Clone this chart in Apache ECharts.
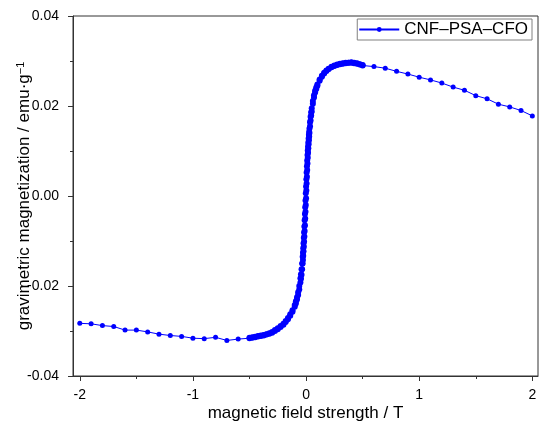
<!DOCTYPE html>
<html>
<head>
<meta charset="utf-8">
<script src="https://cdn.jsdelivr.net/npm/echarts@6/dist/echarts.min.js"></script>
<style>
html,body{margin:0;padding:0;background:#fff;}
#chart{width:550px;height:428px;}
</style>
</head>
<body>
<div id="chart"></div>
<script>
// Field (T) and magnetization (emu/g)
const seriesName = 'CNF\u2013PSA\u2013CFO';

// Outer left region (sparse points)
const fieldLeft = [-2.0,-1.9,-1.8,-1.7,-1.6,-1.5,-1.4,-1.3,-1.2,-1.1,-1.0,-0.9,-0.8,-0.7,-0.6];
const magLeft   = [-0.0283,-0.0284,-0.0288,-0.0290,-0.0298,-0.0298,-0.0302,-0.0307,-0.0310,-0.0312,-0.0316,-0.0317,-0.0314,-0.0321,-0.0318];

// Dense central region
const fieldDense = [-0.5,-0.475,-0.45,-0.425,-0.4,-0.375,-0.35,-0.325,-0.3,-0.275,-0.25,-0.225,-0.2,-0.18,-0.16,-0.14,-0.12,-0.1,-0.09,-0.08,-0.07,-0.06,-0.05,-0.045,-0.04,-0.035,-0.03,-0.0275,-0.025,-0.0225,-0.02,-0.0175,-0.015,-0.0125,-0.01,-0.0075,-0.005,-0.0025,0,0.0025,0.005,0.0075,0.01,0.0125,0.015,0.0175,0.02,0.0225,0.025,0.0275,0.03,0.035,0.04,0.045,0.05,0.06,0.07,0.08,0.09,0.1,0.12,0.14,0.16,0.18,0.2,0.225,0.25,0.275,0.3,0.325,0.35,0.375,0.4,0.425,0.45,0.475,0.5];
const magUp = [-0.0316,-0.0315,-0.0314,-0.0312,-0.0311,-0.0310,-0.0308,-0.0306,-0.0304,-0.0300,-0.0296,-0.0291,-0.0286,-0.0280,-0.0274,-0.0266,-0.0257,-0.0246,-0.0239,-0.0230,-0.0220,-0.0208,-0.0192,-0.0184,-0.0175,-0.0163,-0.0150,-0.0142,-0.0133,-0.0123,-0.0112,-0.0101,-0.0090,-0.0078,-0.0065,-0.0050,-0.0035,-0.0020,-0.0005,0.0012,0.0028,0.0043,0.0058,0.0072,0.0085,0.0096,0.0106,0.0115,0.0124,0.0132,0.0140,0.0155,0.0168,0.0179,0.0188,0.0205,0.0219,0.0230,0.0238,0.0245,0.0256,0.0265,0.0272,0.0278,0.0282,0.0286,0.0289,0.0291,0.0293,0.0294,0.0295,0.0296,0.0296,0.0295,0.0294,0.0292,0.0290];
const magDown = [-0.0315,-0.0314,-0.0313,-0.0311,-0.0310,-0.0309,-0.0307,-0.0305,-0.0302,-0.0298,-0.0294,-0.0289,-0.0284,-0.0278,-0.0271,-0.0263,-0.0254,-0.0242,-0.0234,-0.0225,-0.0214,-0.0200,-0.0183,-0.0174,-0.0163,-0.0150,-0.0135,-0.0126,-0.0116,-0.0105,-0.0093,-0.0081,-0.0068,-0.0054,-0.0040,-0.0025,-0.0010,0.0006,0.0021,0.0037,0.0052,0.0066,0.0079,0.0091,0.0101,0.0110,0.0119,0.0128,0.0136,0.0143,0.0150,0.0164,0.0176,0.0186,0.0195,0.0211,0.0224,0.0234,0.0241,0.0248,0.0259,0.0267,0.0274,0.0279,0.0283,0.0287,0.0290,0.0292,0.0294,0.0295,0.0296,0.0296,0.0297,0.0296,0.0295,0.0293,0.0291];

// Outer right region (sparse points)
const fieldRight = [0.6,0.7,0.8,0.9,1.0,1.1,1.2,1.3,1.4,1.5,1.6,1.7,1.8,1.9,2.0];
const magRight   = [0.02876,0.0284,0.0277,0.0271,0.0264,0.0258,0.0251,0.0242,0.0235,0.0223,0.0216,0.0204,0.0198,0.0190,0.0178];

// Axis ticks
const xTicks = [-2,-1,0,1,2];
const xMinorTicks = [-1.5,-0.5,0.5,1.5];
const xMin = -2.06, xMax = 2.05;
const yMin = -0.04, yMax = 0.04, yStep = 0.02;

const pair = (xs, ys) => xs.map((x, i) => [x, ys[i]]);
const mainPath = pair(fieldLeft, magLeft).concat(pair(fieldDense, magUp), pair(fieldRight, magRight));
const returnPath = pair(fieldDense, magDown).reverse();

const blue = '#0000ff';
const axisColor = '#333';
const font = 'Liberation Sans, Arial, sans-serif';
const markSize = v => (Math.abs(v[0]) <= 0.5 ? 6 : 5);

const chart = echarts.init(document.getElementById('chart'), null, {renderer: 'canvas'});
chart.setOption({
  animation: false,
  backgroundColor: '#fff',
  grid: {left: 73, top: 16, right: 12, bottom: 52, containLabel: false, outerBoundsMode: 'none',
    show: true, borderColor: axisColor, borderWidth: 1, backgroundColor: 'transparent'},
  legend: {
    data: [seriesName],
    right: 18, top: 19,
    orient: 'horizontal',
    padding: [2, 4, 2, 1],
    borderColor: '#808080', borderWidth: 1, borderRadius: 0,
    itemWidth: 40, itemHeight: 6, itemGap: 5,
    textStyle: {fontSize: 17, fontFamily: font, color: '#000', padding: [0,0,0,0]}
  },
  xAxis: [{
    type: 'value', min: xMin, max: xMax,
    name: 'magnetic field strength / T', nameLocation: 'middle', nameGap: 29, nameMoveOverlap: false,
    nameTextStyle: {fontSize: 17, fontFamily: font, color: '#000'},
    axisLine: {show: true, onZero: false, lineStyle: {color: axisColor, width: 1}},
    axisTick: {show: true, inside: false, length: 5, customValues: xTicks, lineStyle: {color: axisColor}},
    axisLabel: {show: true, customValues: xTicks, margin: 12, fontSize: 14, fontFamily: font, color: '#000',
      formatter: v => String(v)},
    splitLine: {show: false}
  }, {
    type: 'value', min: xMin, max: xMax, position: 'bottom',
    axisLine: {show: false, onZero: false},
    axisTick: {show: true, length: 3, customValues: xMinorTicks, lineStyle: {color: axisColor}},
    axisLabel: {show: false},
    splitLine: {show: false}
  }],
  yAxis: {
    type: 'value', min: yMin, max: yMax, interval: yStep,
    name: '{t|gravimetric magnetization / emu·g}{s|\u22121}', nameLocation: 'middle', nameGap: 40, nameMoveOverlap: false,
    nameTextStyle: {fontSize: 17, fontFamily: font, color: '#000',
      rich: {t: {fontSize: 17, fontFamily: font, color: '#000'}, s: {fontSize: 11, fontFamily: font, color: '#000', verticalAlign: 'top', padding: [0,0,7,0]}}},
    axisLine: {show: true, onZero: false, lineStyle: {color: axisColor, width: 1}},
    axisTick: {show: true, length: 5, lineStyle: {color: axisColor}},
    minorTick: {show: true, splitNumber: 2, length: 3, lineStyle: {color: axisColor}},
    axisLabel: {margin: 14, fontSize: 14, fontFamily: font, color: '#000', formatter: v => v.toFixed(2)},
    splitLine: {show: false}
  },
  series: [{
    name: seriesName, type: 'line', data: mainPath,
    symbol: 'circle', symbolSize: markSize, showSymbol: true,
    lineStyle: {color: blue, width: 1}, itemStyle: {color: blue},
    clip: true
  }, {
    name: seriesName, type: 'line', data: returnPath,
    symbol: 'circle', symbolSize: markSize, showSymbol: true,
    lineStyle: {color: blue, width: 1}, itemStyle: {color: blue},
    clip: true
  }]
});
</script>
</body>
</html>
